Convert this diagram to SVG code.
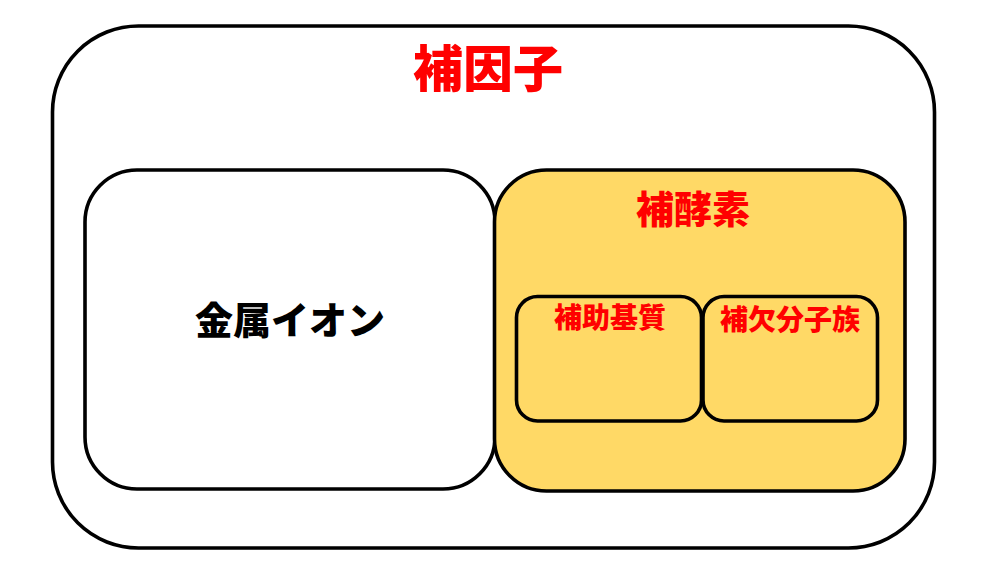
<svg xmlns="http://www.w3.org/2000/svg" width="1000" height="576" viewBox="0 0 1000 576">
<style>
.box{stroke:#000;stroke-width:3.6;}
.t{font-family:"Noto Sans CJK JP","Noto Sans CJK SC",sans-serif;font-weight:900;text-anchor:middle;dominant-baseline:central;}
.red{fill:#FF0000;}
</style>
<rect width="1000" height="576" fill="#fff"/>
<g id="cofactor">
<rect class="box" x="52.5" y="26" width="882" height="522" rx="86" ry="86" fill="#fff"/>
<text class="t red" x="488" y="65" font-size="50">補因子</text>
</g>
<g id="metal-ion">
<rect class="box" x="85" y="170" width="410" height="319" rx="52" ry="52" fill="#fff"/>
<text class="t" x="290" y="317" font-size="38" fill="#000">金属イオン</text>
</g>
<g id="coenzyme">
<rect class="box" x="494.5" y="170" width="410.5" height="321" rx="52" ry="52" fill="#FFD966"/>
<text class="t red" x="693" y="206" font-size="38">補酵素</text>
</g>
<g id="cosubstrate">
<rect class="box" x="516.5" y="296.5" width="185" height="124.5" rx="21" ry="21" fill="#FFD966"/>
<text class="t red" x="610" y="316" font-size="28">補助基質</text>
</g>
<g id="prosthetic-group">
<rect class="box" x="703" y="296.5" width="174.5" height="124.5" rx="21" ry="21" fill="#FFD966"/>
<text class="t red" x="790" y="318" font-size="28">補欠分子族</text>
</g>
<g id="connectors"></g>
</svg>
